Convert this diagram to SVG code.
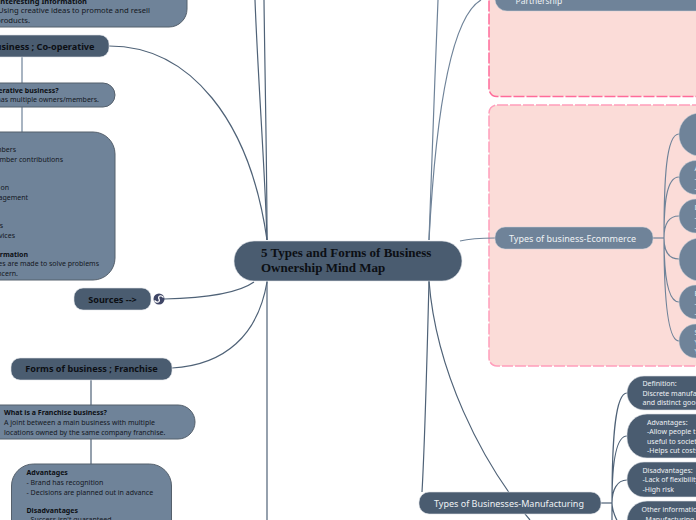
<svg xmlns="http://www.w3.org/2000/svg" width="696" height="520" viewBox="0 0 696 520">
<style>
text{font-family:"Noto Sans","Open Sans","DejaVu Sans",sans-serif}
.d{fill:#4a5c70;stroke:#dfe3e8;stroke-width:.6}
.m{fill:#6f8399;stroke:#55606c;stroke-width:1}
.r{fill:#6f8399;stroke:#c9d0d8;stroke-width:.5}
.t{font-size:7px;fill:#14181f}
.b{font-size:7px;font-weight:700;fill:#0c0f14}
.t2{font-size:7.700px;fill:#14181f;text-anchor:end}
.b2{font-size:7.500px;font-weight:700;fill:#0c0f14;text-anchor:end}
.h{font-size:9.100px;font-weight:700;fill:#0c0f14;text-anchor:middle}
.w{font-size:7px;fill:#eef1f4}
.w2{font-size:9px;fill:#eef1f4}
.e{text-anchor:end}
.c{fill:none;stroke:#4f6277;stroke-width:1.200}
.l{fill:none;stroke:#6f8399;stroke-width:1.200}
.z{fill:#fbdcd8;stroke-width:1.500;stroke-dasharray:11 2}
.s{font-family:"Liberation Serif",serif;font-size:13px;font-weight:700;fill:#0c0f14}
</style>
<g id="zones">
<rect class="z" x="489" y="-20" width="240" height="116.500" rx="8" stroke="#ff6b9a"/>
<rect class="z" x="489" y="105" width="240" height="261" rx="8" stroke="#ff9dbb"/>
</g>
<g id="connectors">
<path class="c" d="M255 0C258 80 265 170 267 240"/>
<path class="c" d="M264 0C265 80 267 170 267 240"/>
<path class="c" d="M109 46C190 46 250 120 267 240"/>
<path class="c" d="M164 299C210 298 240 292 254 282"/>
<path class="c" d="M172 368C225 365 258 335 267 282"/>
<path class="c" d="M267 281V520"/>
<path class="l" d="M22 57V83M22 107V132"/>
<path class="c" d="M91 380V405M91 439V464"/>
<path class="l" d="M438 0C435 80 431 170 429 240"/>
<path class="l" d="M481 0C455 15 437 90 429 240"/>
<path class="l" d="M460 241C472 238 485 238 495 238"/>
<path class="c" d="M429 281C427 360 425 440 422 492"/>
<path class="c" d="M429 281C436 370 480 460 530 520"/>
<path class="l" d="M653 238H664"/>
<path class="l" d="M664 238C664 180 666 134 679 134M664 238C664 205 666 177 679 177M664 238C664 225 668 216 679 216M664 238C664 250 668 259 679 259M664 238C664 275 668 302 679 302M664 238C664 300 668 341 679 341"/>
<path class="c" d="M601 503H612"/>
<path class="c" d="M612 503C612 440 615 393 627 393M612 503C612 470 615 436 627 436M612 503C612 490 617 480 627 480M612 503C612 510 616 520 620 525M612 503V520"/>
</g>
<g id="root">
<rect class="d" x="234" y="241" width="228" height="40" rx="20"/>
<text class="s" x="261" y="257">5 Types and Forms of Business</text>
<text class="s" x="261" y="272">Ownership Mind Map</text>
</g>
<g id="n-interesting">
<rect class="m" x="-30" y="-30" width="217" height="57" rx="18"/>
<text class="b2" x="87" y="4">Interesting Information</text>
<text class="t2" x="150" y="13">- Using creative ideas to promote and resell</text>
<text class="t2" x="30" y="23">products.</text>
</g>
<g id="n-coop">
<rect class="d" x="-30" y="35" width="139" height="22" rx="9"/>
<text class="h e" x="94.500" y="50" style="text-anchor:end">Business ; Co-operative</text>
</g>
<g id="n-coop-what">
<rect class="m" x="-30" y="83" width="145" height="24" rx="12"/>
<text class="b e" x="58.500" y="93">erative business?</text>
<text class="t e" x="99" y="102">has multiple owners/members.</text>
</g>
<g id="n-coop-info">
<rect class="m" x="-30" y="132" width="145" height="148" rx="22"/>
<text class="t e" x="16" y="152">mbers</text>
<text class="t e" x="63" y="162">mber contributions</text>
<text class="t e" x="9" y="190">on</text>
<text class="t e" x="28" y="200">agement</text>
<text class="t e" x="3" y="228">s</text>
<text class="t e" x="15" y="238">vices</text>
<text class="b e" x="28" y="257">rmation</text>
<text class="t e" x="99" y="266">es are made to solve problems</text>
<text class="t e" x="18" y="276">ncern.</text>
</g>
<g id="n-sources">
<rect class="d" x="74" y="288" width="77" height="22" rx="9"/>
<text class="h" x="112.500" y="303">Sources --&gt;</text>
<circle cx="159" cy="299" r="5.500" fill="#3f4666"/>
<path d="M154.500 300.500C157 303.500 160.500 302 159 299C157.500 296 161 294.500 163.500 297.500" fill="none" stroke="#fff" stroke-width="1.300"/>
</g>
<g id="n-franchise">
<rect class="d" x="11" y="358" width="161" height="22" rx="9"/>
<text class="h" x="91.500" y="372">Forms of business ; Franchise</text>
</g>
<g id="n-franchise-what">
<rect class="m" x="-30" y="405" width="225" height="34" rx="17"/>
<text class="b" x="4" y="415">What is a Franchise business?</text>
<text class="t" x="4" y="425">A joint between a main business with multiple</text>
<text class="t" x="4" y="435">locations owned by the same company franchise.</text>
</g>
<g id="n-franchise-info">
<rect class="m" x="11.500" y="464" width="160" height="80" rx="22"/>
<text class="b" x="26.500" y="475">Advantages</text>
<text class="t" x="26.500" y="485">- Brand has recognition</text>
<text class="t" x="26.500" y="494.500">- Decisions are planned out in advance</text>
<text class="b" x="26.500" y="513">Disadvantages</text>
<text class="t" x="26.500" y="522">- Success isn't guaranteed</text>
</g>
<g id="n-partnership">
<rect class="r" x="495" y="-20" width="240" height="31" rx="12"/>
<text class="w2" x="515.500" y="4" style="font-size:8.500px">Partnership</text>
</g>
<g id="n-ecommerce">
<rect class="r" x="495" y="227" width="158" height="22" rx="10"/>
<text class="w2" x="572.500" y="241.500" text-anchor="middle">Types of business-Ecommerce</text>
</g>
<g id="n-e1"><rect class="r" x="679" y="113" width="60" height="43" rx="21"/></g>
<g id="n-e2"><rect class="r" x="679" y="160.500" width="60" height="34" rx="17"/>
<text class="w" x="694.500" y="171">A</text><text class="w" x="694.500" y="181">-</text><text class="w" x="694.500" y="191">-</text></g>
<g id="n-e3"><rect class="r" x="679" y="199" width="60" height="34" rx="17"/>
<text class="w" x="694.500" y="210">D</text><text class="w" x="694.500" y="220">-</text><text class="w" x="694.500" y="230">-</text></g>
<g id="n-e4"><rect class="r" x="679" y="238" width="60" height="43" rx="21"/></g>
<g id="n-e5"><rect class="r" x="679" y="285" width="60" height="34" rx="17"/>
<text class="w" x="694.500" y="296">B</text><text class="w" x="694.500" y="306">-</text><text class="w" x="694.500" y="316">-</text></g>
<g id="n-e6"><rect class="r" x="679" y="324" width="60" height="34" rx="17"/>
<text class="w" x="694.500" y="335">S</text><text class="w" x="694.500" y="345">Y</text><text class="w" x="694.500" y="354">Y</text></g>
<g id="n-manufacturing">
<rect class="d" x="419" y="492" width="182" height="22" rx="10"/>
<text class="w2" x="509" y="507" text-anchor="middle">Types of Businesses-Manufacturing</text>
</g>
<g id="n-m1"><rect class="d" x="627" y="376" width="110" height="34" rx="17"/>
<text class="w" x="642.500" y="386">Definition:</text><text class="w" x="642.500" y="396">Discrete manufa</text><text class="w" x="642.500" y="405">and distinct good</text></g>
<g id="n-m2"><rect class="d" x="627" y="414" width="110" height="44" rx="20"/>
<text class="w" x="647" y="425">Advantages:</text><text class="w" x="647" y="434">-Allow people t</text><text class="w" x="647" y="444">useful to societ</text><text class="w" x="647" y="453">-Helps cut costs</text></g>
<g id="n-m3"><rect class="d" x="627" y="462" width="110" height="35" rx="17"/>
<text class="w" x="642.500" y="473">Disadvantages:</text><text class="w" x="642.500" y="482">-Lack of flexibility</text><text class="w" x="642.500" y="492">-High risk</text></g>
<g id="n-m4"><rect class="d" x="627" y="501" width="110" height="44" rx="20"/>
<text class="w" x="641.500" y="512">Other information</text><text class="w" x="641.500" y="522">- Manufacturing</text></g>
</svg>
